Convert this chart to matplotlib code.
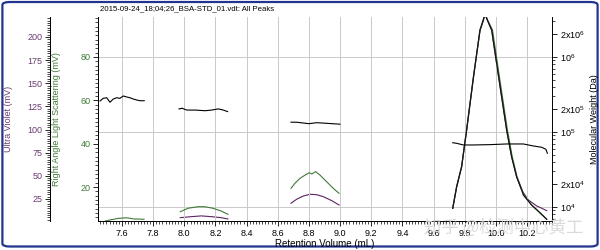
"""SEC-MALS style overlay: UV, RALS and molecular weight vs retention volume."""

import matplotlib

matplotlib.use("Agg")
import matplotlib.pyplot as plt
import numpy as np
from matplotlib.patches import FancyBboxPatch
from matplotlib.ticker import FixedLocator, MultipleLocator, NullFormatter

plt.rcParams["font.family"] = ["Liberation Sans", "DejaVu Sans"]
plt.rcParams["mathtext.fontset"] = "custom"
plt.rcParams["mathtext.rm"] = "Liberation Sans"

TITLE = "2015-09-24_18;04;26_BSA-STD_01.vdt: All Peaks"

# ---- data (mL, mV / Da) ----
# molecular weight, four peak windows
mw1_x = [7.459, 7.480, 7.502, 7.523, 7.544, 7.566, 7.587, 7.608, 7.630, 7.651, 7.673, 7.694, 7.716, 7.743]
mw1_y = [259e3, 281e3, 286e3, 249e3, 275e3, 286e3, 281e3, 302e3, 293e3, 286e3, 275e3, 267e3, 261e3, 261e3]
mw2_x = [7.966, 7.987, 8.015, 8.069, 8.133, 8.176, 8.218, 8.250, 8.278]
mw2_y = [203e3, 207e3, 196e3, 196e3, 192e3, 196e3, 203e3, 196e3, 187e3]
mw3_x = [8.685, 8.720, 8.760, 8.800, 8.850, 8.900, 8.950, 8.999]
mw3_y = [135e3, 135e3, 132e3, 129e3, 133e3, 131e3, 129e3, 127e3]
mw4_x = [9.723, 9.748, 9.791, 9.855, 9.962, 10.069, 10.176, 10.240, 10.294, 10.321, 10.330]
mw4_y = [71.9e3, 70.6e3, 67.1e3, 67.1e3, 67.8e3, 69.2e3, 69.2e3, 65.1e3, 62.5e3, 58.7e3, 52.0e3]

# right angle light scattering (green)
rals1_x = [7.493, 7.531, 7.574, 7.628, 7.682, 7.714, 7.741]
rals1_y = [4.3, 4.9, 5.5, 5.8, 5.2, 5.2, 5.1]
rals2_x = [7.974, 8.024, 8.088, 8.131, 8.184, 8.237, 8.280]
rals2_y = [8.6, 10.2, 10.9, 10.9, 10.2, 8.9, 7.4]
rals3_x = [8.685, 8.710, 8.743, 8.775, 8.802, 8.818, 8.843, 8.871, 8.914, 8.956, 8.993]
rals3_y = [19.4, 21.7, 24.0, 25.5, 26.6, 26.0, 27.1, 25.5, 22.4, 19.4, 17.1]
rals4_x = [9.723, 9.748, 9.780, 9.812, 9.855, 9.898, 9.919, 9.930, 9.943, 9.978, 10.018,
           10.074, 10.105, 10.136, 10.168, 10.180, 10.229, 10.283, 10.326]
rals4_y = [10.2, 20.1, 29.4, 46.3, 70.3, 92.5, 97.1, 100.0, 97.5, 92.5, 73.1,
           46.3, 33.9, 24.7, 18.7, 16.3, 11.7, 8.1, 5.1]

# ultra violet (purple)
uv2_x = [7.974, 8.045, 8.109, 8.173, 8.237, 8.280]
uv2_y = [4.8, 5.9, 6.7, 5.9, 4.8, 3.4]
uv3_x = [8.685, 8.721, 8.764, 8.807, 8.850, 8.892, 8.946, 8.993]
uv3_y = [20.4, 24.7, 28.2, 30.1, 29.6, 27.5, 23.2, 18.5]
uv4_x = [9.723, 9.748, 9.780, 9.812, 9.855, 9.898, 9.919, 9.930, 9.943, 9.973, 10.013,
         10.069, 10.101, 10.133, 10.165, 10.208, 10.262, 10.326]
uv4_y = [15.0, 38.3, 59.8, 99.4, 155.4, 207.1, 217.4, 225.0, 219.0, 207.1, 161.8,
         99.4, 70.6, 49.0, 34.7, 23.9, 17.5, 12.4]

# concentration-type trace under the main peak (black), RALS scale
dk_x = [9.723, 9.748, 9.780, 9.812, 9.855, 9.898, 9.919, 9.930, 9.943, 9.973, 10.013,
        10.069, 10.101, 10.133, 10.165, 10.176, 10.229, 10.283, 10.326]
dk_y = [10.2, 20.1, 29.4, 46.3, 70.3, 92.5, 97.1, 100.0, 97.5, 92.5, 73.1,
        46.3, 33.9, 24.7, 18.7, 16.3, 11.7, 8.1, 5.1]

x_ticks = [7.6, 7.8, 8.0, 8.2, 8.4, 8.6, 8.8, 9.0, 9.2, 9.4, 9.6, 9.8, 10.0, 10.2]
rals_ticks = [20, 40, 60, 80]
uv_ticks = [25, 50, 75, 100, 125, 150, 175, 200]
mw_ticks = [1e4, 2e4, 1e5, 2e5, 1e6, 2e6]
mw_labels = ["10$^{4}$", "2x10$^{4}$", "10$^{5}$", "2x10$^{5}$", "10$^{6}$", "2x10$^{6}$"]

GREEN = "#3f7a37"
PURPLE = "#5d2462"
UV_TXT = "#6a3a72"
GRID = "#c9c9c9"
fs = 6.5

fig = plt.figure(figsize=(6, 2.5), dpi=100)
fig.patch.set_facecolor("white")
fig.patches.append(FancyBboxPatch((0.004, 0.014), 0.992, 0.978, boxstyle="round,pad=0,rounding_size=0.012",
                                  transform=fig.transFigure, facecolor="none",
                                  edgecolor="#22348f", lw=1.6, zorder=0))

ax = fig.add_axes([0.1633, 0.116, 0.7567, 0.816])
ax_uv = ax.twinx()
ax_mw = ax.twinx()
# RALS/black traces drawn above the UV ones
ax_uv.set_zorder(1)
ax.set_zorder(2)
ax_mw.set_zorder(3)

# grid from the x ticks and the MW decades
for xv in x_ticks:
    ax.axvline(xv, color=GRID, lw=0.7, zorder=0)
ax.set_xlim(7.446, 10.36)
ax.set_ylim(4.31, 98.46)
ax_uv.set_ylim(1.2, 221.6)
ax_mw.set_yscale("log")
ax_mw.set_ylim(10 ** 3.813, 10 ** 6.533)
for yv in [1e4, 1e5, 1e6]:
    ax_uv.axhline(np.interp(np.log10(yv), [3.813, 6.533], [1.2, 221.6]), color=GRID, lw=0.7, zorder=0)

for xs, ys in [(rals1_x, rals1_y), (rals2_x, rals2_y), (rals3_x, rals3_y), (rals4_x, rals4_y)]:
    ax.plot(xs, ys, color=GREEN, lw=0.8, zorder=3)
ax.plot(dk_x, dk_y, color="#151515", lw=0.9, zorder=4)
for xs, ys in [(uv2_x, uv2_y), (uv3_x, uv3_y), (uv4_x, uv4_y)]:
    ax_uv.plot(xs, ys, color=PURPLE, lw=0.8, zorder=3)
for xs, ys in [(mw1_x, mw1_y), (mw2_x, mw2_y), (mw3_x, mw3_y), (mw4_x, mw4_y)]:
    ax_mw.plot(xs, ys, color="black", lw=0.8, zorder=3)

# spines
for a in (ax, ax_uv, ax_mw):
    a.spines["top"].set_visible(False)
ax.spines["right"].set_visible(False)
ax_uv.spines["right"].set_visible(False)
ax_mw.spines["left"].set_visible(False)
ax_mw.spines["bottom"].set_visible(False)
ax_uv.spines["bottom"].set_visible(False)
ax_uv.spines["left"].set_visible(True)
ax_uv.spines["left"].set_position(("axes", (50 - 98) / 454))
ax_uv.yaxis.set_label_position("left")
ax_uv.yaxis.set_ticks_position("left")

# x axis
ax.xaxis.set_major_locator(FixedLocator(x_ticks))
ax.xaxis.set_minor_locator(MultipleLocator(0.02))
ax.set_xticklabels([f"{v:.1f}" for v in x_ticks])
ax.tick_params(axis="x", which="major", length=3.5, width=0.6, labelsize=fs, pad=2)
ax.tick_params(axis="x", which="minor", length=2, width=0.5)
ax.set_xlabel("Retention Volume (mL)", fontsize=7, labelpad=1)

# RALS axis
ax.yaxis.set_major_locator(FixedLocator(rals_ticks))
ax.yaxis.set_minor_locator(MultipleLocator(2))
ax.tick_params(axis="y", which="major", length=3.5, width=0.6, labelsize=fs, labelcolor=GREEN, pad=2)
ax.tick_params(axis="y", which="minor", length=2, width=0.5)
ax.set_ylabel("Right Angle Light Scattering (mV)", fontsize=6.5, color=GREEN, labelpad=14)

# UV axis
ax_uv.yaxis.set_major_locator(FixedLocator(uv_ticks))
ax_uv.yaxis.set_minor_locator(MultipleLocator(2.5))
ax_uv.tick_params(axis="y", which="major", length=3.5, width=0.6, labelsize=fs, labelcolor=UV_TXT, pad=2)
ax_uv.tick_params(axis="y", which="minor", length=2, width=0.5)
ax_uv.set_ylabel("Ultra Violet (mV)", fontsize=6.5, color=UV_TXT, labelpad=10)

# MW axis
ax_mw.yaxis.set_major_locator(FixedLocator(mw_ticks))
ax_mw.yaxis.set_major_formatter(plt.FixedFormatter(mw_labels))
ax_mw.yaxis.set_minor_locator(FixedLocator([m * 10 ** e for e in (3, 4, 5, 6) for m in range(3, 10)]))
ax_mw.yaxis.set_minor_formatter(NullFormatter())
ax_mw.tick_params(axis="y", which="major", length=3.5, width=0.6, labelsize=fs, pad=2)
ax_mw.tick_params(axis="y", which="minor", length=2, width=0.5)
ax_mw.set_ylabel("Molecular Weight (Da)", fontsize=6.5, labelpad=4)

for a in (ax, ax_uv, ax_mw):
    for s in a.spines.values():
        s.set_linewidth(0.7)
    a.patch.set_visible(False)

fig.text(0.167, 0.965, TITLE, fontsize=5.6, ha="left", va="center")
fig.text(0.84, 0.088, "知乎 @检测中心黄工", fontsize=12.5, color="#d4d4d4", alpha=0.85,
         ha="center", va="center", family=["Noto Sans CJK SC", "DejaVu Sans"], zorder=10)

fig.savefig("out.png", dpi=100, facecolor=fig.get_facecolor())
